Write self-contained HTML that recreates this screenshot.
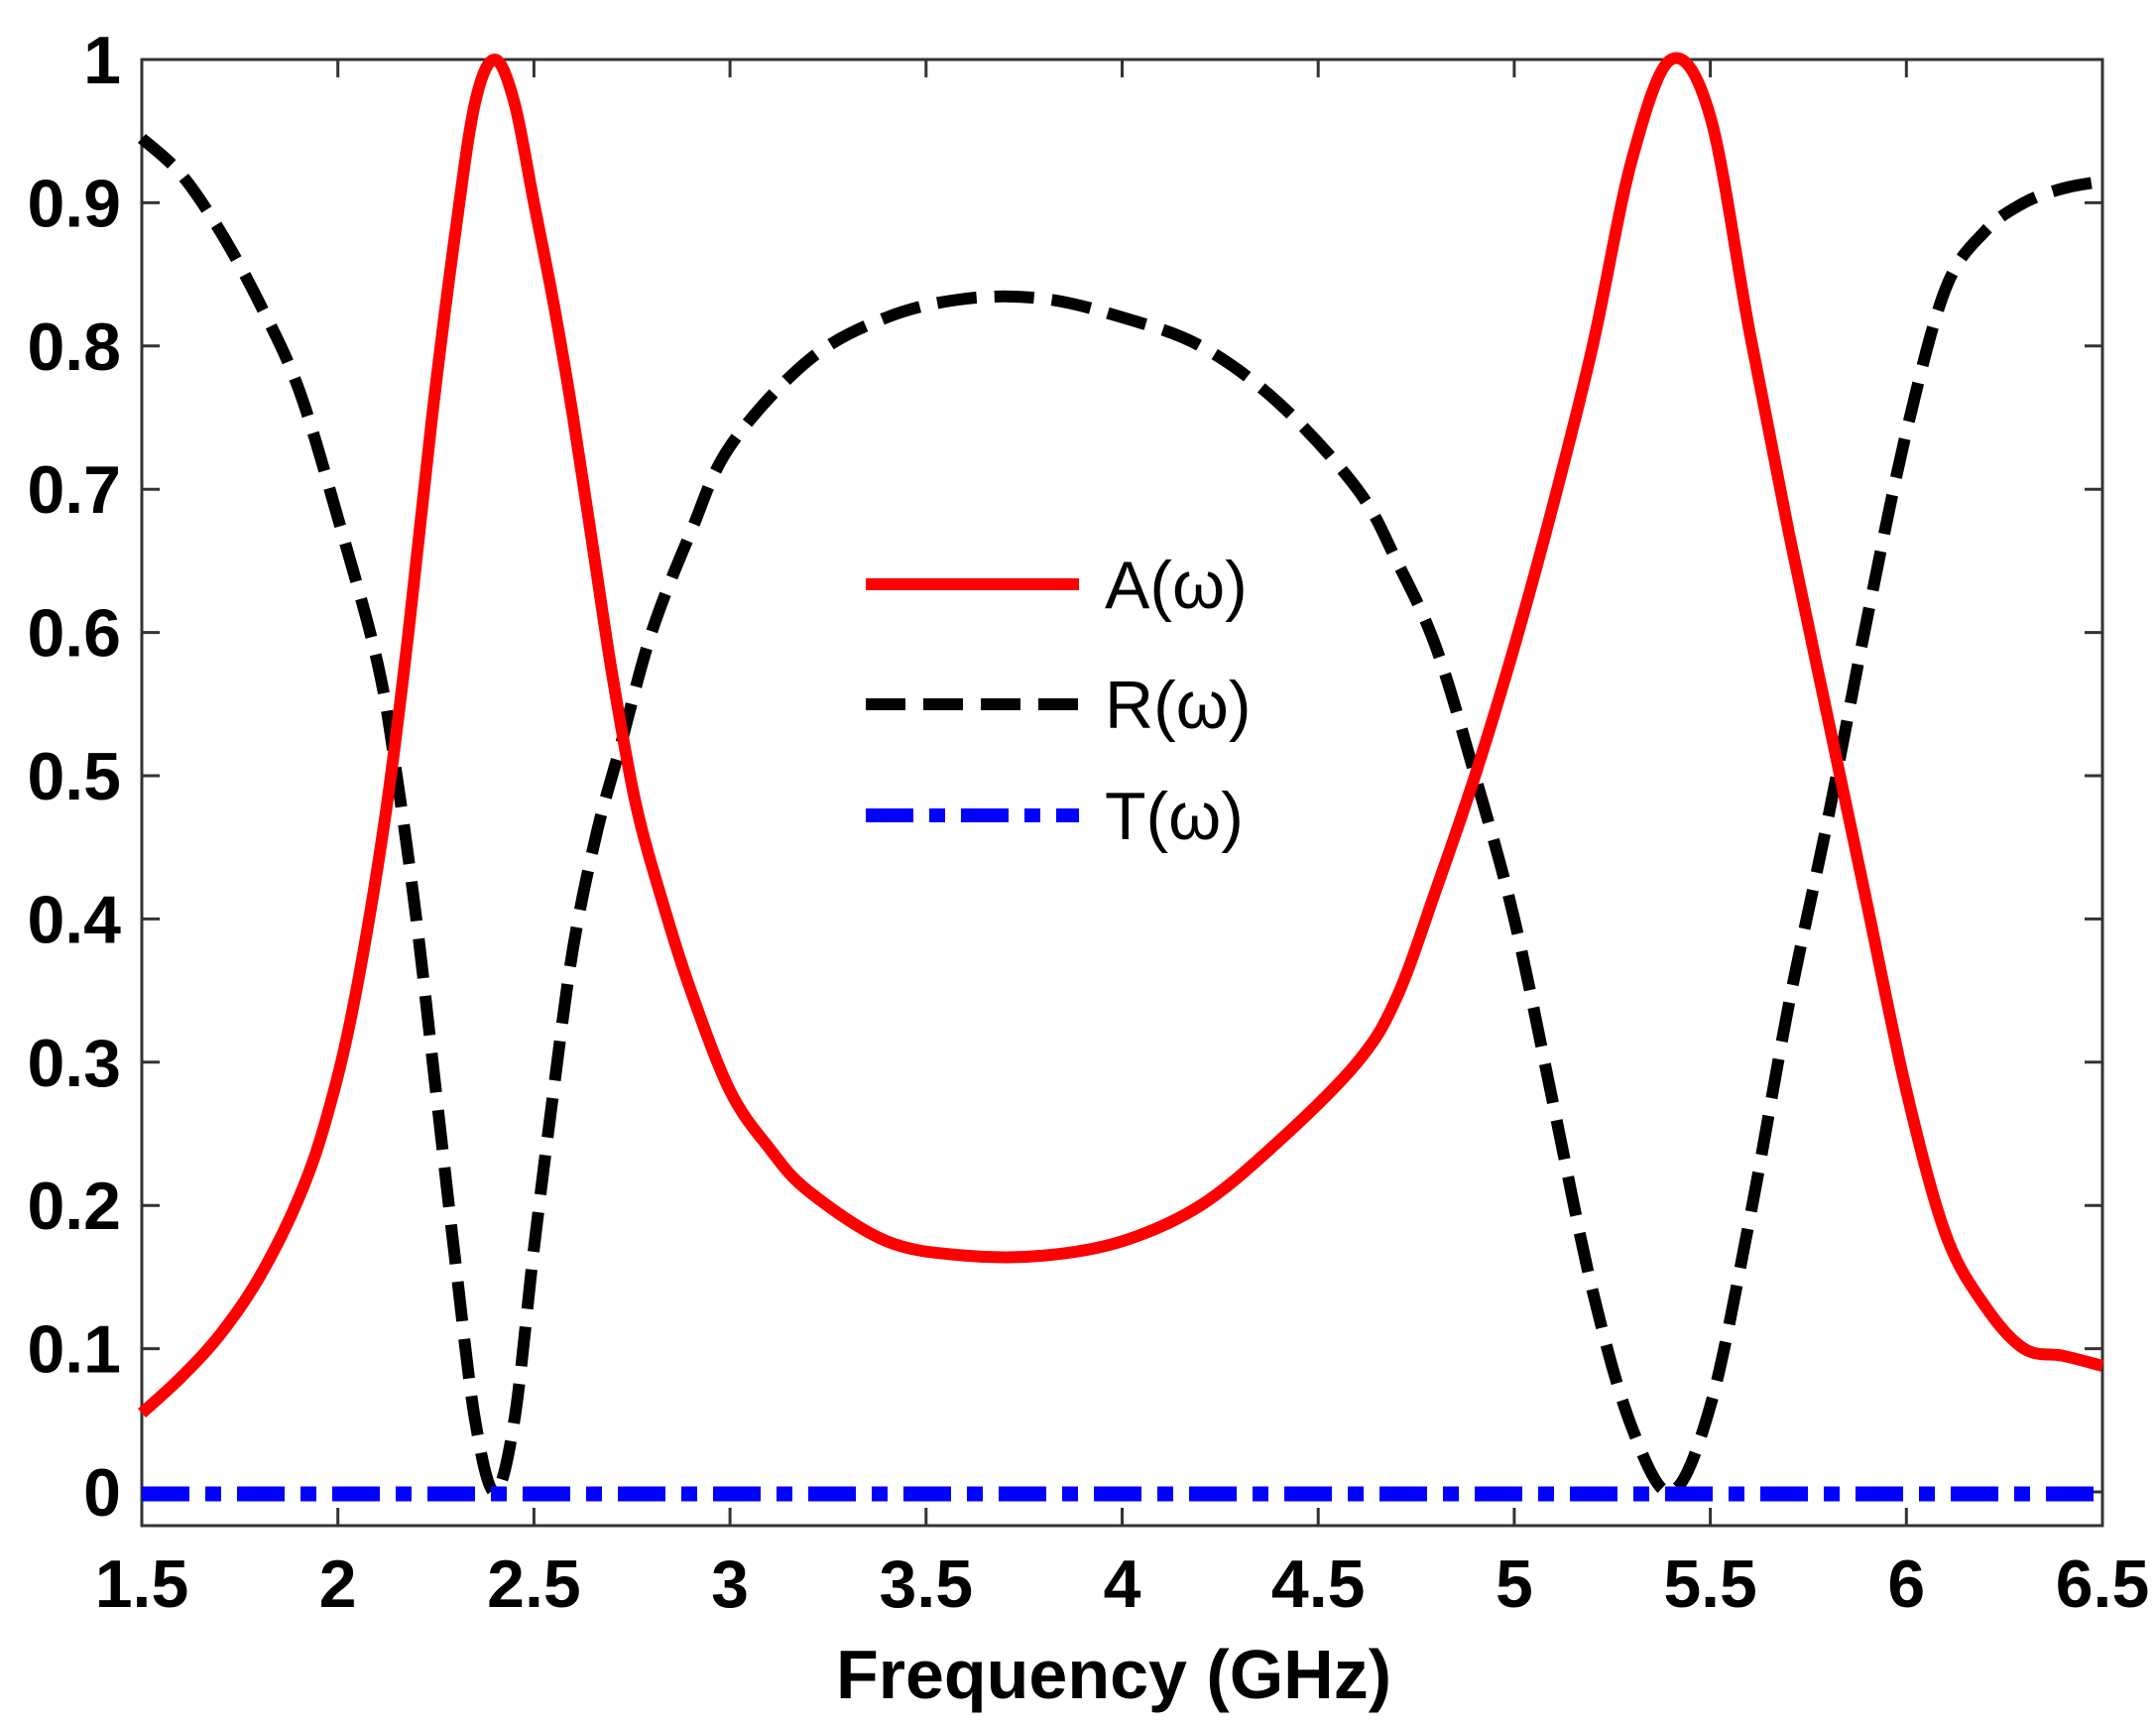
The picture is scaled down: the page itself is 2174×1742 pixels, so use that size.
<!DOCTYPE html>
<html><head><meta charset="utf-8"><style>
html,body{margin:0;padding:0;background:#fff;}
svg{display:block;}
.t{font-family:"Liberation Sans",Arial,sans-serif;font-weight:bold;font-size:68px;fill:#000;}
.l{font-family:"Liberation Sans",Arial,sans-serif;font-size:68px;fill:#000;}
</style></head><body>
<svg id="s" width="2174" height="1742" viewBox="0 0 2174 1742" xmlns="http://www.w3.org/2000/svg">
<g id="g"></g>
<line x1="873" y1="589" x2="1088" y2="589" stroke="#ff0000" stroke-width="12"/>
<line x1="873" y1="710" x2="1088" y2="710" stroke="#000" stroke-width="12" stroke-dasharray="40,18"/>
<line x1="873" y1="822" x2="1088" y2="822" stroke="#0000ff" stroke-width="14" stroke-dasharray="48,16,16,16"/>
<text class="l" x="1114" y="613">A(ω)</text>
<text class="l" x="1114" y="734">R(ω)</text>
<text class="l" x="1114" y="846">T(ω)</text>
<text class="t" x="1123" y="1712" text-anchor="middle" style="font-size:70px">Frequency (GHz)</text>
</svg>
<script>
var L=143,R=2120,T=60,Y0=1504,B=1538;
function X(f){return L+(f-1.5)*(R-L)/5;}
function Y(v){return Y0-v*(Y0-T);}
var A=[[1.5,.055],[1.6,.08],[1.7,.11],[1.8,.15],[1.9,.205],[1.97,.26],[2.04,.34],[2.12,.47],[2.18,.6],[2.24,.75],[2.3,.88],[2.35,.97],[2.4,1],[2.45,.97],[2.5,.9],[2.55,.83],[2.6,.75],[2.65,.66],[2.7,.57],[2.76,.48],[2.83,.41],[2.9,.35],[3.0,.28],[3.1,.24],[3.2,.21],[3.4,.175],[3.6,.165],[3.8,.165],[4.0,.175],[4.2,.2],[4.4,.245],[4.6,.30],[4.7,.345],[4.8,.42],[4.9,.5],[5.0,.59],[5.1,.69],[5.2,.80],[5.3,.93],[5.4,1],[5.5,.96],[5.6,.81],[5.7,.67],[5.8,.54],[5.9,.41],[6.0,.28],[6.1,.18],[6.2,.13],[6.3,.10],[6.4,.095],[6.5,.088]];
var Rr=[[1.5,.945],[1.6,.92],[1.7,.88],[1.8,.83],[1.9,.77],[2.0,.68],[2.1,.58],[2.15,.5],[2.2,.40],[2.25,.28],[2.3,.16],[2.35,.05],[2.4,0],[2.45,.05],[2.5,.17],[2.55,.28],[2.6,.38],[2.66,.46],[2.72,.52],[2.8,.6],[2.9,.67],[3.0,.73],[3.2,.79],[3.4,.82],[3.6,.833],[3.8,.833],[4.0,.82],[4.2,.8],[4.4,.76],[4.6,.70],[4.7,.65],[4.8,.59],[4.9,.5],[5.0,.40],[5.1,.27],[5.2,.14],[5.3,.045],[5.4,0],[5.5,.06],[5.6,.19],[5.7,.34],[5.8,.47],[5.9,.61],[6.0,.74],[6.1,.84],[6.2,.88],[6.3,.9],[6.4,.91],[6.5,.915]];
function path(d){var p=d.map(function(q){return [X(q[0]),Y(q[1])];});var s="M"+p[0][0]+","+p[0][1];
for(var i=0;i<p.length-1;i++){var p0=p[Math.max(i-1,0)],p1=p[i],p2=p[i+1],p3=p[Math.min(i+2,p.length-1)];
s+=" C"+(p1[0]+(p2[0]-p0[0])/6)+","+(p1[1]+(p2[1]-p0[1])/6)+" "+(p2[0]-(p3[0]-p1[0])/6)+","+(p2[1]-(p3[1]-p1[1])/6)+" "+p2[0]+","+p2[1];}return s;}
var h='<rect x="'+L+'" y="'+T+'" width="'+(R-L)+'" height="'+(B-T)+'" fill="none" stroke="#333" stroke-width="3"/>';
for(var i=0;i<=10;i++){var f=1.5+i*0.5,x=X(f);h+='<line x1="'+x+'" y1="'+B+'" x2="'+x+'" y2="'+(B-18)+'" stroke="#333" stroke-width="3"/><line x1="'+x+'" y1="'+T+'" x2="'+x+'" y2="'+(T+18)+'" stroke="#333" stroke-width="3"/>';
h+='<text class="t" x="'+x+'" y="1620" text-anchor="middle">'+(f%1==0?f:f.toFixed(1))+'</text>';}
for(var j=0;j<=10;j++){var v=j/10,y=Y(v);h+='<line x1="'+L+'" y1="'+y+'" x2="'+(L+18)+'" y2="'+y+'" stroke="#333" stroke-width="3"/><line x1="'+R+'" y1="'+y+'" x2="'+(R-18)+'" y2="'+y+'" stroke="#333" stroke-width="3"/>';
h+='<text class="t" x="122" y="'+(y+24)+'" text-anchor="end">'+(j==0?'0':j==10?'1':v.toFixed(1))+'</text>';}
h+='<path d="'+path(Rr)+'" fill="none" stroke="#000" stroke-width="12" stroke-dasharray="40,18"/>';
h+='<path d="'+path(A)+'" fill="none" stroke="#ff0000" stroke-width="12" stroke-linejoin="round"/>';
h+='<line x1="'+L+'" y1="1506" x2="'+R+'" y2="1506" stroke="#0000ff" stroke-width="15" stroke-dasharray="48,16,16,16"/>';
document.getElementById('g').innerHTML=h;
</script>
</body></html>
